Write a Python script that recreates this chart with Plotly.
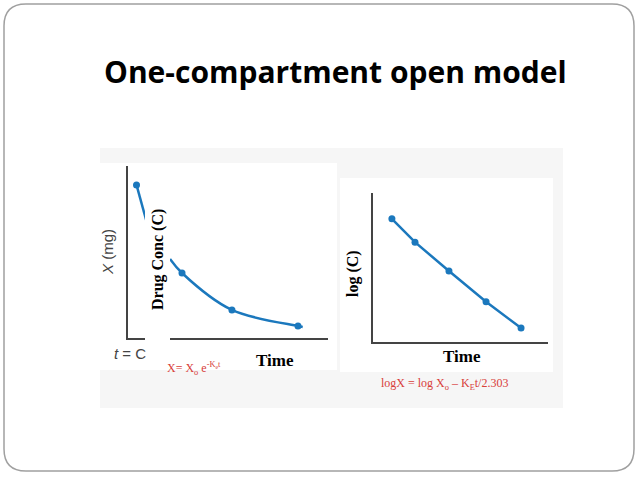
import plotly.graph_objects as go

W, H = 638, 478

# back chart (X in mg vs t), only its first part shows
x_time = [0, 2]
x_mg = [8.9, 5.3]

# drug concentration curve
conc_time = [0, 0.76, 3.92, 8.1, 8.4]
conc_vals = [4.6, 3.78, 1.63, 0.70, 0.64]
conc_pt_time = [0.76, 3.92, 8.1]
conc_pt_vals = [3.78, 1.63, 0.70]

# log(C) vs time
log_time = [0.54, 1.2, 2.17, 3.23, 4.23]
log_vals = [2.48, 2.01, 1.43, 0.81, 0.28]

BLUE = '#1b78bd'
AXIS = '#444444'
RED = '#d8403a'


def fx(px):
    return px / W


def fy(py):
    return 1 - py / H


fig = go.Figure()

fig.add_trace(go.Scatter(x=x_time, y=x_mg, mode='lines', line=dict(color=BLUE, width=2.5),
                         xaxis='x', yaxis='y', hoverinfo='skip'))
fig.add_trace(go.Scatter(x=x_time[:1], y=x_mg[:1], mode='markers', marker=dict(color=BLUE, size=7),
                         xaxis='x', yaxis='y'))

fig.add_trace(go.Scatter(x=conc_time, y=conc_vals, mode='lines',
                         line=dict(color=BLUE, width=2.5, shape='spline'),
                         xaxis='x2', yaxis='y2', hoverinfo='skip'))
fig.add_trace(go.Scatter(x=conc_pt_time, y=conc_pt_vals, mode='markers',
                         marker=dict(color=BLUE, size=7), xaxis='x2', yaxis='y2'))

fig.add_trace(go.Scatter(x=log_time, y=log_vals, mode='lines+markers',
                         line=dict(color=BLUE, width=2.5), marker=dict(color=BLUE, size=7),
                         xaxis='x3', yaxis='y3'))

ax_common = dict(showgrid=False, zeroline=False, showticklabels=False, ticks='',
                 linecolor=AXIS, linewidth=1.5, fixedrange=True)

fig.update_layout(
    width=W, height=H,
    margin=dict(l=0, r=0, t=0, b=0),
    paper_bgcolor='white',
    plot_bgcolor='rgba(0,0,0,0)',
    font=dict(family='Liberation Serif', size=14, color='black'),
    showlegend=False,
    xaxis=dict(domain=[fx(128), fx(145)], range=[-1, 1], showline=True, anchor='y', **ax_common),
    yaxis=dict(domain=[fy(338), fy(166)], range=[0, 10], showline=True, anchor='x', **ax_common),
    xaxis2=dict(domain=[fx(170), fx(328)], range=[0, 10], showline=True, anchor='y2', **ax_common),
    yaxis2=dict(domain=[fy(338), fy(166)], range=[0, 10], showline=False, anchor='x2', **ax_common),
    xaxis3=dict(domain=[fx(373), fx(548)], range=[0, 5], showline=True, anchor='y3', **ax_common),
    yaxis3=dict(domain=[fy(342), fy(193)], range=[0, 3], showline=True, anchor='x3', **ax_common),
)

# slide border with rounded corners
r_x, r_y = 22 / W, 22 / H
x0, x1, y0, y1 = fx(4), fx(634), fy(471), fy(4)
border = (f'M {x0 + r_x},{y1} L {x1 - r_x},{y1} Q {x1},{y1} {x1},{y1 - r_y} '
          f'L {x1},{y0 + r_y} Q {x1},{y0} {x1 - r_x},{y0} '
          f'L {x0 + r_x},{y0} Q {x0},{y0} {x0},{y0 + r_y} '
          f'L {x0},{y1 - r_y} Q {x0},{y1} {x0 + r_x},{y1} Z')

shapes = [
    dict(type='path', path=border, xref='paper', yref='paper',
         line=dict(color='#a0a0a0', width=1.5), layer='below'),
    dict(type='rect', xref='paper', yref='paper', x0=fx(100), x1=fx(563), y0=fy(408), y1=fy(148),
         fillcolor='#f6f6f6', line=dict(width=0), layer='below'),
    dict(type='rect', xref='paper', yref='paper', x0=fx(100), x1=fx(337), y0=fy(370), y1=fy(163),
         fillcolor='white', line=dict(width=0), layer='below'),
    dict(type='rect', xref='paper', yref='paper', x0=fx(340), x1=fx(553), y0=fy(372), y1=fy(178),
         fillcolor='white', line=dict(width=0), layer='below'),
]
fig.update_layout(shapes=shapes)

serif = 'Liberation Serif'
annots = [
    dict(x=fx(335), y=fy(72), text='<b>One-compartment open model</b>',
         font=dict(family='Open Sans', size=30, color='black')),
    dict(x=fx(107), y=fy(252), text='<i>X</i> (mg)', textangle=-90,
         font=dict(family='Liberation Sans', size=15, color='#444')),
    dict(x=fx(130), y=fy(353), text='<i>t</i> = C',
         font=dict(family='Liberation Sans', size=15, color='#444')),
    dict(x=fx(158), y=fy(260), text='<b>Drug Conc (C)</b>', textangle=-90,
         font=dict(family=serif, size=16, color='black')),
    dict(x=fx(275), y=fy(360), text='<b>Time</b>',
         font=dict(family=serif, size=17, color='black')),
    dict(x=fx(194), y=fy(368), text='X= X<sub>o</sub> e<sup>-K<sub>e</sub>t</sup>',
         font=dict(family=serif, size=12, color=RED)),
    dict(x=fx(353), y=fy(273), text='<b>log (C)</b>', textangle=-90,
         font=dict(family=serif, size=16, color='black')),
    dict(x=fx(462), y=fy(356), text='<b>Time</b>',
         font=dict(family=serif, size=17, color='black')),
    dict(x=fx(444), y=fy(384), text='logX = log X<sub>o</sub> \u2013 K<sub>E</sub>t/2.303',
         font=dict(family=serif, size=12, color=RED)),
]
for a in annots:
    a.update(xref='paper', yref='paper', showarrow=False, xanchor='center', yanchor='middle')
fig.update_layout(annotations=annots)

# drop the page's default body margin so the slide sits at the window corner
fig.write_html('out.html', config={'displayModeBar': False},
               post_script="document.body.style.margin='0';")
